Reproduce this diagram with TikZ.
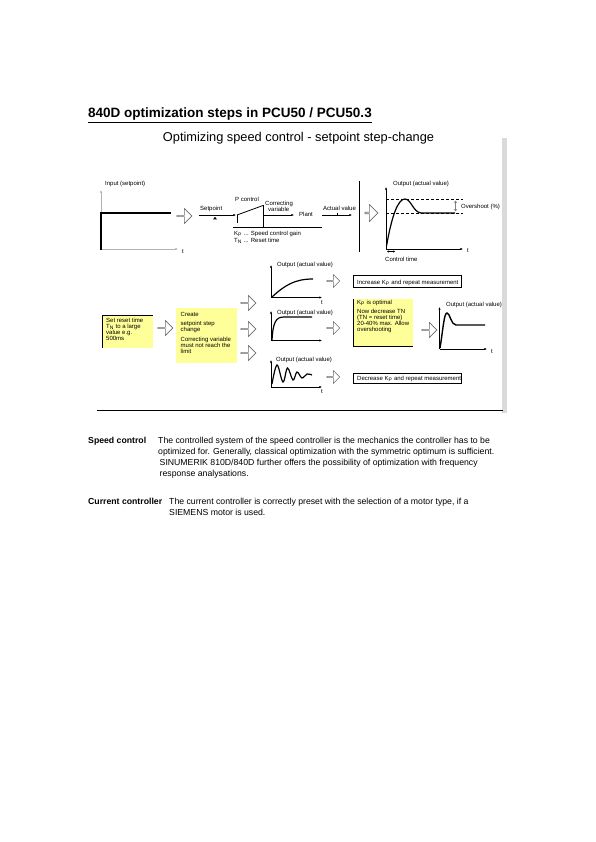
\documentclass[tikz,border=0pt]{standalone}
\usepackage{fontspec}
\setmainfont{Liberation Sans}
\usetikzlibrary{shapes.arrows,arrows.meta}
\definecolor{note}{RGB}{255,255,153}
\definecolor{barg}{RGB}{218,218,218}
\begin{document}
\begin{tikzpicture}[x=1pt,y=-1pt,
  tinyt/.style={font=\fontsize{6}{7}\selectfont, inner sep=0pt, anchor=base west},
  boxt/.style={font=\fontsize{6}{7}\selectfont, inner sep=0pt, anchor=base west},
  body/.style={font=\fontsize{8.7}{10}\selectfont, inner sep=0pt, anchor=base west},
  bodyb/.style={font=\bfseries\fontsize{8.7}{10}\selectfont, inner sep=0pt, anchor=base west},
  axisg/.style={draw=gray!60, line width=0.8pt, -{Latex[length=2.6pt,width=2.2pt]}},
  axisk/.style={draw=black, line width=0.5pt, -{Latex[length=2.6pt,width=2.2pt]}},
  flow/.style={line width=0.5pt, -{Latex[length=2.6pt,width=2.2pt]}},
  hollow/.style={single arrow, draw=gray!85!black, fill=white, line width=0.6pt, minimum height=15pt, minimum width=15pt, single arrow head extend=3pt, inner sep=0pt},
  hollows/.style={hollow, minimum height=13pt, minimum width=13pt, single arrow head extend=2.8pt},
  notebox/.style={fill=note, draw=none, inner sep=0pt, anchor=north west},
  whitebox/.style={fill=white, draw=black, line width=0.5pt, inner sep=0pt, anchor=north west}
]
\fill[white] (0,0) rectangle (595,842);
\useasboundingbox (0,0) rectangle (595,842);

% headings
\node[anchor=base west, inner sep=0pt, font=\bfseries\fontsize{13.5}{15}\selectfont] (title) at (88,118) {\underline{840D optimization steps in PCU50 / PCU50.3}};
\node[anchor=base, inner sep=0pt, font=\fontsize{12.8}{14}\selectfont] (sub) at (298.5,142) {Optimizing speed control - setpoint step-change};

% frame parts
\fill[barg] (502,138) rectangle (507,413);
\draw[line width=0.8pt] (97,410) -- (503,410);

% input graph
\draw[axisg] (101,249) -- (101,190);
\draw[axisg] (101,249) -- (178,249);
\node[tinyt] (tin) at (182,253) {t};
\node[tinyt] (lin) at (105,186) {Input (setpoint)};
\draw[line width=1.8pt] (101,249.5) -- (101,213) -- (171,213);
\node[hollow] (a1) at (184,216) {};

% block diagram
\node[tinyt] (lsp) at (200,211) {Setpoint};
\coordinate (spin) at (199,215);
\coordinate (pin) at (236,215);
\draw[flow] (spin) -- (pin);
\fill (213,219.5) -- (215,216.8) -- (217,219.5) -- cycle;
\node[tinyt] (lpc) at (235,202) {P control};
\draw[line width=1.6pt] (237.5,215) -- (237.5,223);
\draw[line width=0.8pt] (237,215) -- (263,205.5);
\draw[line width=0.6pt] (263,205) -- (263,227);
\draw[line width=0.6pt] (233,227) -- (322,227);
\node[tinyt] (lkp) at (234,235) {K\textsubscript{P} ... Speed control gain};
\node[tinyt] (ltn) at (234,242) {T\textsubscript{N} ... Reset time};
\node[tinyt] (lcv1) at (265,205.5) {Correcting};
\node[tinyt] (lcv2) at (268,211.5) {variable};
\coordinate (pout) at (263,215);
\node[tinyt] (plant) at (299,217) {Plant};
\coordinate (cvend) at (294,215);
\draw[flow] (pout) -- (cvend);
\node[tinyt] (lav) at (323,211) {Actual value};
\coordinate (avs) at (322,215);
\coordinate (ave) at (352,215);
\draw[flow] (avs) -- (ave);
\draw[line width=0.5pt] (337,213.5) -- (337,216.5);
\draw[line width=0.8pt] (359,181) -- (359,252);
\node[hollow, minimum height=13pt, minimum width=17pt] (a2) at (371,213) {};

% output graph
\draw[axisk] (386,249) -- (386,187);
\draw[axisk] (386,249) -- (463,249);
\node[tinyt] at (467,252) {t};
\node[tinyt] (lout) at (393,186) {Output (actual value)};
\draw[line width=0.5pt, dash pattern=on 3pt off 2pt] (386,199) -- (463,199);
\draw[line width=0.5pt, dash pattern=on 3pt off 2pt] (386,213) -- (463,213);
\draw[line width=1.2pt] (386.5,246) .. controls (392,215) and (398,199) .. (405,199) .. controls (411,199) and (413,212) .. (421,213) -- (455,213);
\draw[gray, line width=0.4pt, {Stealth[open,length=2.5pt,width=3.5pt]}-{Stealth[open,length=2.5pt,width=3.5pt]}] (455.5,200.5) -- (455.5,211.5);
\node[tinyt] (lov) at (461,209) {Overshoot (\%)};
\draw[line width=0.5pt, {Stealth[length=2pt,width=2pt]}-{Stealth[length=2pt,width=2pt]}] (387,251.5) -- (395,251.5);
\node[tinyt] (lct) at (385,261) {Control time};

% bottom: start boxes
\node[notebox, minimum width=51pt, minimum height=33pt] (b1) at (102,315) {};
\draw[line width=0.6pt] (b1.south west) -- (b1.north west) -- (b1.north east);
\node[boxt] (t1a) at (106,322.5) {Set reset time};
\node[boxt] (t1b) at (106,328.5) {T\textsubscript{N} to a large};
\node[boxt] (t1c) at (106,334.5) {value e.g.};
\node[boxt] (t1d) at (106,340.5) {500ms};
\node[hollow] (a3) at (165,328) {};
\node[notebox, minimum width=61pt, minimum height=55pt] (b2) at (176,308) {};
\node[boxt] (t2a) at (180.5,316) {Create};
\node[boxt] (t2b) at (180.5,325) {setpoint step};
\node[boxt] (t2c) at (180.5,331) {change};
\node[boxt] (t2d) at (180.5,341) {Correcting variable};
\node[boxt] (t2e) at (180.5,347) {must not reach the};
\node[boxt] (t2f) at (180.5,353) {limit};
\node[hollow, shape border rotate=35] (a4) at (248,303) {};
\node[hollow] (a5) at (248,329) {};
\node[hollow, shape border rotate=-35] (a6) at (248,353) {};

% middle graphs
\draw[axisk] (271,297.5) -- (271,265);
\draw[axisk] (271,297.5) -- (322,297.5);
\node[tinyt] (lg1) at (277,266) {Output (actual value)};
\node[tinyt] at (321,304) {t};
\draw[line width=1.2pt] (272,297) .. controls (285,285) and (295,279) .. (313,279);

\draw[axisk] (271,340.5) -- (271,311);
\draw[axisk] (271,340.5) -- (322,340.5);
\node[tinyt] (lg2) at (277,314) {Output (actual value)};
\draw[line width=1.2pt] (272,340) .. controls (273,322) and (276,317) .. (284,317) -- (312,317);

\draw[axisk] (271,387) -- (271,360);
\draw[axisk] (271,387) -- (322,387);
\node[tinyt] (lg3) at (276,361) {Output (actual value)};
\node[tinyt] at (321,393) {t};
\draw[line width=1.2pt] plot[smooth, tension=0.6] coordinates {(272,384) (277,365) (283,382) (287.5,368) (293,380) (297,372) (302,378) (307,374) (312,375)};

\node[hollows] (a7) at (333,281) {};
\node[hollows] (a8) at (333,328) {};
\node[hollows] (a9) at (333,377) {};

% right column
\node[whitebox, minimum width=108pt, minimum height=12pt] (b3) at (353,275) {};
\node[boxt] (t3) at (357,284) {Increase K\textsubscript{P} and repeat measurement};
\node[notebox, minimum width=60pt, minimum height=47pt] (b4) at (353,299) {};
\draw[line width=0.6pt] (b4.north west) -- (b4.south west) -- (b4.south east);
\node[boxt] (t4a) at (357,304.5) {K\textsubscript{P} is optimal};
\node[boxt] (t4b) at (357,313) {Now decrease TN};
\node[boxt] (t4c) at (357,319) {(TN = reset time)};
\node[boxt] (t4d) at (357,325) {20-40\% max. Allow};
\node[boxt] (t4e) at (357,331) {overshooting};
\node[hollow] (a10) at (429,330) {};
\node[whitebox, minimum width=108pt, minimum height=10pt] (b5) at (353,372.5) {};
\node[boxt] (t5) at (357,380.5) {Decrease K\textsubscript{P} and repeat measurement};

% last graph
\draw[axisk] (439.5,349) -- (439.5,307);
\draw[axisk] (439.5,349) -- (487,349);
\node[tinyt] at (491,353) {t};
\node[tinyt] (lg4) at (446,306) {Output (actual value)};
\draw[line width=1.4pt] (440,348) .. controls (443,330) and (444,313) .. (447,313) .. controls (450,313) and (451,325) .. (456,325) -- (485,325);

% text
\node[bodyb] (hs) at (88,443) {Speed control};
\node[body] at (158,443) {The controlled system of the speed controller is the mechanics the controller has to be};
\node[body] at (158,454) {optimized for. Generally, classical optimization with the symmetric optimum is sufficient.};
\node[body] at (159.5,465) {SINUMERIK 810D/840D further offers the possibility of optimization with frequency};
\node[body] at (159.5,476) {response analysations.};
\node[bodyb] (hc) at (88,504) {Current controller};
\node[body] at (169,504) {The current controller is correctly preset with the selection of a motor type, if a};
\node[body] at (169,515) {SIEMENS motor is used.};
\end{tikzpicture}
\end{document}
